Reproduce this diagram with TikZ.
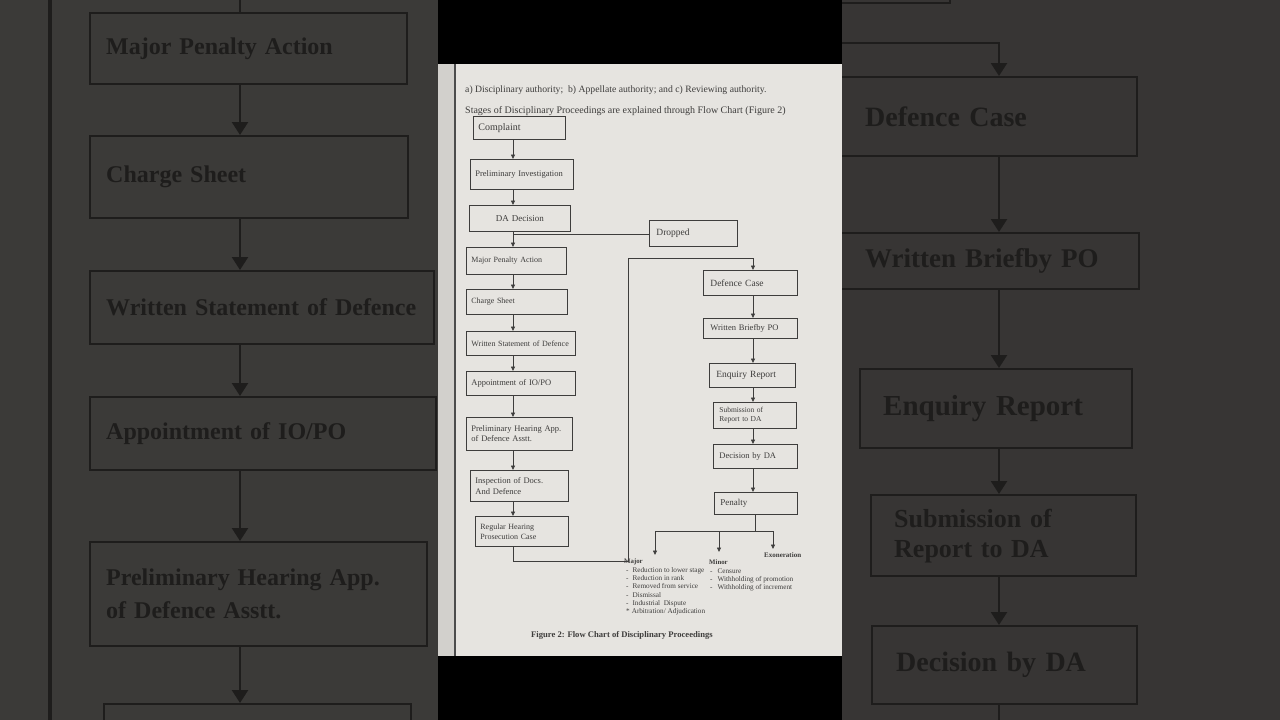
\documentclass[tikz,border=0pt]{standalone}
\usepackage{fontspec}
\setmainfont{Liberation Serif}
\usepackage{xcolor}
\usetikzlibrary{arrows.meta}
\definecolor{paper}{HTML}{E6E4E0}
\definecolor{paperedge}{HTML}{D2D0CC}
\definecolor{ink}{HTML}{3E3D3C}
\definecolor{shadeL}{HTML}{3B3A38}
\definecolor{shadeR}{HTML}{373534}
\definecolor{smudge}{HTML}{1E1D1C}

\begin{document}
\begin{tikzpicture}[x=1pt,y=-1pt,
  sized/.style n args={3}{minimum width=#1, minimum height=#2, inner xsep=#3, text width=#1-2*#3},
  box/.style={draw=ink, line width=0.8pt, anchor=north west, inner ysep=0pt, align=left, text=ink, font=\fontsize{8.5}{10}\selectfont},
  arr/.style={draw=ink, line width=0.8pt, -{Triangle[length=4.5pt,width=4pt]}},
  plain/.style={draw=ink, line width=0.8pt},
  note/.style={anchor=north west, align=left, text=ink, inner sep=0pt},
  bigbox/.style={draw=smudge, line width=2.4pt, anchor=north west, inner ysep=0pt, align=left, text=smudge, font=\bfseries\fontsize{24}{32}\selectfont},
  bigarr/.style={draw=smudge, line width=2.4pt, -{Triangle[length=13pt,width=16pt]}}]
\useasboundingbox (0,0) rectangle (1280,720);

% blurred side panels
\fill[shadeL] (0,0) rectangle (438,720);
\fill[shadeR] (842,0) rectangle (1280,720);
\draw[smudge, line width=4pt] (50,0) -- (50,720);
\node[bigbox, sized={317}{71}{16}] (lmpa) at (89,12) {Major Penalty Action};
\node[bigbox, sized={318}{82}{16}] (lchs) at (89,135) {Charge Sheet};
\node[bigbox, sized={344}{73}{16}] (lwsd) at (89,270) {Written Statement of Defence};
\node[bigbox, sized={346}{73}{16}] (lapp) at (89,396) {Appointment of IO/PO};
\node[bigbox, sized={337}{104}{16}, font=\bfseries\fontsize{24}{33}\selectfont] (lphr) at (89,541) {Preliminary Hearing App.\\of Defence Asstt.};
\node[bigbox, sized={307}{60}{16}] (lnext) at (103,703) {};
\coordinate (lcol) at (240,0);
\coordinate (ltop) at (240,-5);
\draw[smudge, line width=2.4pt] (ltop) -- (lmpa.north -| lcol);
\foreach \a/\b in {lmpa/lchs,lchs/lwsd,lwsd/lapp,lapp/lphr,lphr/lnext}
  \draw[bigarr] (\a.south -| lcol) -- (\b.north -| lcol);

\node[bigbox, sized={260}{44}{10}] (rdrp) at (689,-42) {};
\node[bigbox, sized={306}{79}{34}, font=\bfseries\fontsize{28}{33}\selectfont] (rdfc) at (830,76) {Defence Case};
\node[bigbox, sized={308}{56}{34}, font=\bfseries\fontsize{27}{33}\selectfont] (rwbp) at (830,232) {Written Briefby PO};
\node[bigbox, sized={272}{79}{23}, font=\bfseries\fontsize{29}{33}\selectfont] (renq) at (859,368) {Enquiry Report};
\node[bigbox, sized={265}{81}{23}, font=\bfseries\fontsize{26}{30}\selectfont] (rsub) at (870,494) {Submission of\\Report to DA};
\node[bigbox, sized={265}{78}{24}, font=\bfseries\fontsize{28}{33}\selectfont] (rdbd) at (871,625) {Decision by DA};
\coordinate (rcol) at (999,0);
\coordinate (rbend) at (800,43);
\coordinate (rbot) at (999,730);
\draw[bigarr] (rbend) -| (rdfc.north -| rcol);
\foreach \a/\b in {rdfc/rwbp,rwbp/renq,renq/rsub,rsub/rdbd}
  \draw[bigarr] (\a.south -| rcol) -- (\b.north -| rcol);
\draw[smudge, line width=2.4pt] (rdbd.south -| rcol) -- (rbot);

% the page
\fill[black] (438,0) rectangle (842,720);
\fill[paper] (438,64) rectangle (842,656);
\fill[paperedge] (438,64) rectangle (455,656);
\draw[gray!60!black, line width=1.2pt] (455,64) -- (455,656);

\node[anchor=west, inner sep=0pt, text=ink, font=\fontsize{9.7}{11}\selectfont] (auth) at (465,90) {a) Disciplinary authority;\ \ b) Appellate authority; and c) Reviewing authority.};
\node[anchor=west, inner sep=0pt, text=ink, font=\fontsize{10}{11}\selectfont] (stages) at (465,111) {Stages of Disciplinary Proceedings are explained through Flow Chart (Figure 2)};

% left column
\node[box, sized={92}{23}{5}, font=\fontsize{10}{11}\selectfont] (cmp) at (473,116) {Complaint};
\node[box, sized={103}{30}{5}] (inv) at (470,159) {Preliminary Investigation};
\node[box, sized={101}{26}{5}, align=center, font=\fontsize{9}{10}\selectfont] (dad) at (469,205) {DA Decision};
\node[box, sized={100}{27}{5}, font=\fontsize{8}{10}\selectfont] (mpa) at (466,247) {Major Penalty Action};
\node[box, sized={101}{25}{5}, font=\fontsize{8}{10}\selectfont] (chs) at (466,289) {Charge Sheet};
\node[box, sized={109}{24}{5}, font=\fontsize{8}{10}\selectfont] (wsd) at (466,331) {Written Statement of Defence};
\node[box, sized={109}{24}{5}] (app) at (466,371) {Appointment of IO/PO};
\node[box, sized={106}{33}{5}] (phr) at (466,417) {Preliminary Hearing App.\\of Defence Asstt.};
\node[box, sized={98}{31}{5}, font=\fontsize{8.5}{11}\selectfont] (ins) at (470,470) {Inspection of Docs.\\And Defence};
\node[box, sized={93}{30}{5}, font=\fontsize{8}{10}\selectfont] (reg) at (475,516) {Regular Hearing\\Prosecution Case};
\node[box, sized={88}{26}{7}, font=\fontsize{9.5}{11}\selectfont] (drp) at (649,220) {Dropped};

% right column
\node[box, sized={94}{25}{7}, font=\fontsize{9.5}{11}\selectfont] (dfc) at (703,270) {Defence Case};
\node[box, sized={94}{20}{7}] (wbp) at (703,318) {Written Briefby PO};
\node[box, sized={86}{24}{7}, font=\fontsize{9.5}{11}\selectfont] (enq) at (709,363) {Enquiry Report};
\node[box, sized={83}{26}{6}, font=\fontsize{7.5}{9}\selectfont] (sub) at (713,402) {Submission of\\Report to DA};
\node[box, sized={84}{24}{6}] (dbd) at (713,444) {Decision by DA};
\node[box, sized={83}{22}{6}, font=\fontsize{9}{10}\selectfont] (pen) at (714,492) {Penalty};

\coordinate (colL) at (513,0);
\coordinate (colR) at (753,0);
\foreach \a/\b in {cmp/inv,inv/dad,dad/mpa,mpa/chs,chs/wsd,wsd/app,app/phr,phr/ins,ins/reg}
  \draw[arr] (\a.south -| colL) -- (\b.north -| colL);
\foreach \a/\b in {dfc/wbp,wbp/enq,enq/sub,sub/dbd,dbd/pen}
  \draw[arr] (\a.south -| colR) -- (\b.north -| colR);

\coordinate (split) at (513,234);
\draw[plain] (split) -- (split -| drp.west);
\coordinate (lowbend) at (628,561);
\coordinate (topbend) at (628,258);
\draw[arr] (reg.south -| colL) |- (lowbend) -- (topbend) -| (dfc.north -| colR);

% penalty branches
\coordinate (pjoin) at (755,531);
\coordinate (brL) at (655,531);
\coordinate (brM) at (719,531);
\coordinate (brR) at (773,531);
\coordinate (endL) at (655,555);
\coordinate (endM) at (719,552);
\coordinate (endR) at (773,549);
\draw[plain] (pen.south -| pjoin) -- (pjoin);
\draw[plain] (brL) -- (brR);
\foreach \s/\e in {brL/endL,brM/endM,brR/endR}
  \draw[arr] (\s) -- (\e);

\node[note, font=\bfseries\fontsize{6.8}{7}\selectfont] (major) at (624,559) {Major};
\node[note, font=\fontsize{7.2}{8.3}\selectfont] (majlist) at (626,567) {-\hspace{4pt}Reduction to lower stage\\-\hspace{4pt}Reduction in rank\\-\hspace{4pt}Removed from service\\-\hspace{4pt}Dismissal\\-\hspace{4pt}Industrial\ \ Dispute\\*\hspace{2pt}Arbitration/ Adjudication};
\node[note, font=\bfseries\fontsize{6.8}{7}\selectfont] (minor) at (709,560) {Minor};
\node[note, font=\fontsize{7.2}{7.8}\selectfont] (minlist) at (710,569) {-\hspace{5pt}Censure\\-\hspace{5pt}Withholding of promotion\\-\hspace{5pt}Withholding of increment};
\node[note, font=\bfseries\fontsize{7}{7}\selectfont] (exon) at (764,552) {Exoneration};

\node[anchor=west, inner sep=0pt, text=ink, font=\bfseries\fontsize{8.6}{10}\selectfont] (caption) at (531,635) {Figure 2: Flow Chart of Disciplinary Proceedings};
\end{tikzpicture}
\end{document}
